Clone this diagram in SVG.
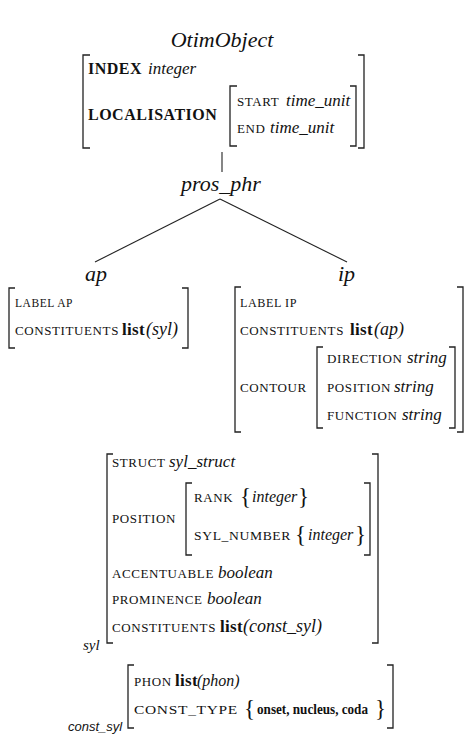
<svg xmlns="http://www.w3.org/2000/svg" width="474" height="737" viewBox="0 0 474 737">
<style>
text{font-family:"Liberation Serif","Times New Roman",serif;fill:#111}
.sc{font-size:13px;letter-spacing:0.6px}
.it{font-style:italic;font-size:17px}
.it16{font-style:italic;font-size:16px}
.it18{font-style:italic;font-size:18px}
.bf{font-weight:bold;font-size:16px;letter-spacing:0.5px}
.lb{font-weight:bold;font-size:17px;letter-spacing:0.3px}
.title{font-style:italic;font-size:22px}
.br{fill:none;stroke:#222;stroke-width:1.3}
.ln{fill:none;stroke:#222;stroke-width:1.1}
.brace{font-size:23px}
.side{font-style:italic;font-size:15px}
.sans{font-family:"Liberation Sans",Arial,sans-serif;font-style:italic;font-size:13px}
.ob{font-weight:bold;font-size:14px}
</style>
<rect width="474" height="737" fill="#fff"/>
<g id="connectors">
<path class="ln" d="M222 152V172"/>
<path class="ln" d="M220 199L95 262"/>
<path class="ln" d="M220 199L347 262"/>
</g>
<g id="otimobject">
<text class="title" x="222" y="47" text-anchor="middle">OtimObject</text>
<path class="br" d="M90 55H83V148H90"/>
<path class="br" d="M358 55H364V148H358"/>
<text x="88" y="74" class="bf">INDEX</text>
<text x="148" y="74" class="it">integer</text>
<text x="88" y="120" class="bf">LOCALISATION</text>
<path class="br" d="M237 86H230V146H237"/>
<path class="br" d="M350 86H356V146H350"/>
<text x="237" y="106" class="sc">START</text>
<text x="286" y="106" class="it">time_unit</text>
<text x="237" y="133" class="sc">END</text>
<text x="270" y="133" class="it">time_unit</text>
</g>
<g id="pros_phr">
<text class="title" x="221" y="191" text-anchor="middle">pros_phr</text>
</g>
<g id="ap">
<text class="title" x="85" y="281">ap</text>
<path class="br" d="M15 288H9V348H15"/>
<path class="br" d="M182 288H188V348H182"/>
<text x="15" y="307" class="sc" textLength="58" lengthAdjust="spacingAndGlyphs">LABEL AP</text>
<text x="15" y="335" class="sc">CONSTITUENTS</text>
<text x="122" y="335" class="lb">list</text>
<text x="146" y="335" class="it18">(syl)</text>
</g>
<g id="ip">
<text class="title" x="338" y="281">ip</text>
<path class="br" d="M241 287H235V432H241"/>
<path class="br" d="M457 287H463V432H457"/>
<text x="240" y="307" class="sc" textLength="57" lengthAdjust="spacingAndGlyphs">LABEL IP</text>
<text x="240" y="335" class="sc">CONSTITUENTS</text>
<text x="350" y="335" class="lb">list</text>
<text x="374" y="335" class="it18">(ap)</text>
<text x="240" y="392" class="sc">CONTOUR</text>
<path class="br" d="M323 347H317V428H323"/>
<path class="br" d="M449 347H455V428H449"/>
<text x="327" y="363" class="sc">DIRECTION</text>
<text x="407" y="363" class="it">string</text>
<text x="327" y="392" class="sc">POSITION</text>
<text x="394" y="392" class="it">string</text>
<text x="327" y="420" class="sc">FUNCTION</text>
<text x="402" y="420" class="it">string</text>
</g>
<g id="syl">
<text class="side" x="83" y="650">syl</text>
<path class="br" d="M113 454H107V643H113"/>
<path class="br" d="M372 454H378V643H372"/>
<text x="112" y="467" class="sc">STRUCT</text>
<text x="169" y="467" class="it">syl_struct</text>
<text x="112" y="523" class="sc">POSITION</text>
<path class="br" d="M192 483H186V555H192"/>
<path class="br" d="M364 483H370V555H364"/>
<text x="194" y="502" class="sc">RANK</text>
<text x="240" y="504" class="brace">{</text>
<text x="252" y="502" class="it16">integer</text>
<text x="298" y="504" class="brace">}</text>
<text x="194" y="540" class="sc" textLength="97" lengthAdjust="spacingAndGlyphs">SYL_NUMBER</text>
<text x="295" y="542" class="brace">{</text>
<text x="308" y="540" class="it16">integer</text>
<text x="355" y="542" class="brace">}</text>
<text x="112" y="578" class="sc">ACCENTUABLE</text>
<text x="218" y="578" class="it">boolean</text>
<text x="112" y="604" class="sc">PROMINENCE</text>
<text x="207" y="604" class="it">boolean</text>
<text x="112" y="632" class="sc">CONSTITUENTS</text>
<text x="220" y="632" class="lb">list</text>
<text x="243" y="632" class="it18">(const_syl)</text>
</g>
<g id="const_syl">
<text class="sans" x="68" y="731">const_syl</text>
<path class="br" d="M134 665H128V728H134"/>
<path class="br" d="M387 665H393V728H387"/>
<text x="134" y="686" class="sc">PHON</text>
<text x="175" y="686" class="lb">list</text>
<text x="197" y="686" class="it16">(phon)</text>
<text x="134" y="714" class="sc" textLength="104" lengthAdjust="spacingAndGlyphs">CONST_TYPE</text>
<text x="244" y="716" class="brace">{</text>
<text x="257" y="714" class="ob" textLength="111" lengthAdjust="spacingAndGlyphs">onset, nucleus, coda</text>
<text x="375" y="716" class="brace">}</text>
</g>
</svg>
